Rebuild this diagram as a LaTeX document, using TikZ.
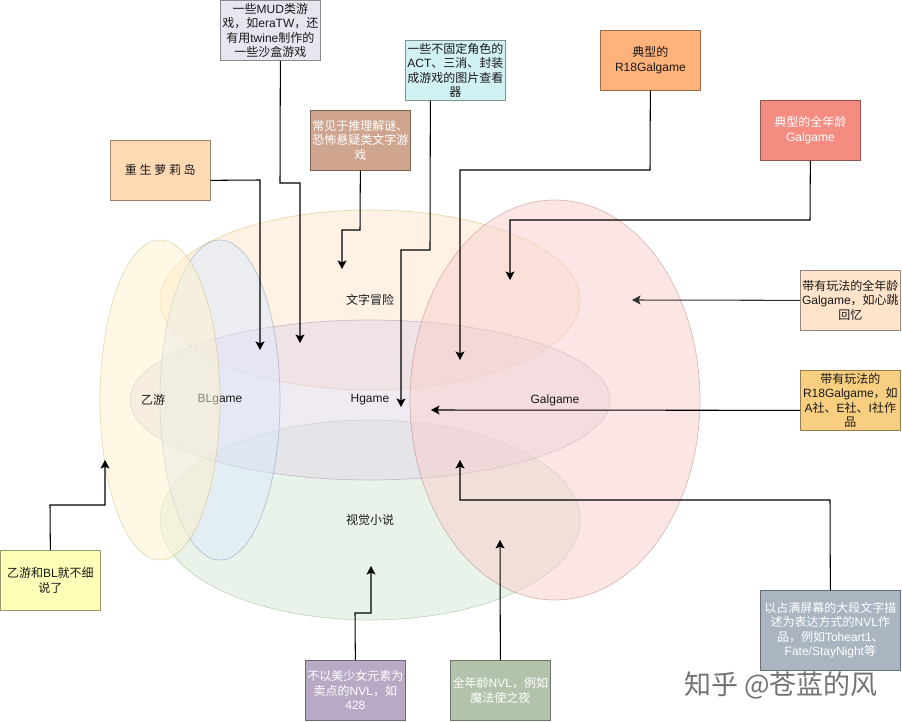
\documentclass[tikz,border=0pt]{standalone}
\usepackage{fontspec}
\setmainfont{Noto Sans CJK SC}
\newfontfamily\latfont{Liberation Sans}
\newcommand{\lat}[1]{{\latfont #1}}
\usetikzlibrary{shapes.geometric,arrows.meta}
\definecolor{cMud}{HTML}{E6E6F0}
\definecolor{cAct}{HTML}{D2F1F3}
\definecolor{cTui}{HTML}{CFA590}
\definecolor{cRe}{HTML}{FFD9B3}
\definecolor{cRe18}{HTML}{FFB27A}
\definecolor{cAll}{HTML}{F48C82}
\definecolor{cPlayA}{HTML}{FFE3CB}
\definecolor{cPlayR}{HTML}{F8CF80}
\definecolor{cNvl}{HTML}{AAB5C1}
\definecolor{cNvlA}{HTML}{B3C3AB}
\definecolor{cNvlB}{HTML}{B8A9C5}
\definecolor{cOto}{HTML}{FFFFB8}
\definecolor{eYel}{HTML}{FFF2CC}
\definecolor{eYelD}{HTML}{BBAA66}
\definecolor{eBlu}{HTML}{DAE8FC}
\definecolor{eBluD}{HTML}{667F9F}
\definecolor{eOra}{HTML}{FFE6CC}
\definecolor{eOraD}{HTML}{C8A040}
\definecolor{ePur}{HTML}{E1D5E7}
\definecolor{ePurD}{HTML}{887799}
\definecolor{eGrn}{HTML}{D5E8D4}
\definecolor{eGrnD}{HTML}{82A070}
\definecolor{eRed}{HTML}{F8CECC}
\definecolor{eRedD}{HTML}{A06660}
\tikzset{
  x=1pt,y=-1pt,
  txt/.style={font=\fontsize{12}{14.5}\selectfont,align=center,inner sep=0pt,text=black!90},
  infobox/.style={txt,draw=#1!60!black,fill=#1,line width=.7pt,anchor=north west,minimum width=100pt,minimum height=60pt},
  lighttext/.style={text=white},
  blob/.style n args={4}{ellipse,draw=#2,fill=#1,fill opacity=.5,draw opacity=.4,line width=.7pt,inner sep=0pt,minimum width=#3,minimum height=#4},
  link/.style={draw=black,line width=1.05pt,-{Stealth[length=8.5pt,width=9pt,inset=1.8pt]}},
}
\begin{document}
\begin{tikzpicture}
\useasboundingbox (0,0) rectangle (902,722);
% overlapping ellipses
\node[blob={eOra}{eOraD}{420pt}{180pt}] (adv) at (370,300) {};
\node[blob={eGrn}{eGrnD}{420pt}{200pt}] (vis) at (370,520) {};
\node[blob={ePur}{ePurD}{480pt}{160pt}] (hg) at (370,400) {};
\node[blob={eBlu}{eBluD}{120pt}{320pt}] (bl) at (220,400) {};
\node[txt] (bltext) at (220,400) {\lat{BLgame}};
\node[blob={eYel}{eYelD}{120pt}{320pt}] (oto) at (160,400) {};
\node[blob={eRed}{eRedD}{290pt}{400pt}] (gal) at (555,400) {};
\node[txt] (advtext) at (370,300) {文字冒险};
\node[txt] (vistext) at (370,520) {视觉小说};
\node[txt] (ototext) at (153,400) {乙游};
\node[txt] (hgtext) at (370,400) {\lat{Hgame}};
\node[txt] (galtext) at (555,400) {\lat{Galgame}};
% boxes
\node[infobox=cMud] (mud) at (220,0) {一些\lat{MUD}类游\\戏，如\lat{eraTW}，还\\有用\lat{twine}制作的\\一些沙盒游戏};
\node[infobox=cAct] (act) at (405,40) {一些不固定角色的\\\lat{ACT}、三消、封装\\成游戏的图片查看\\器};
\node[infobox=cTui,lighttext] (tui) at (310,110) {常见于推理解谜、\\恐怖悬疑类文字游\\戏};
\node[infobox=cRe] (re) at (110,140) {重 生 萝 莉 岛};
\node[infobox=cRe18] (r18) at (600,30) {典型的\\\lat{R18Galgame}};
\node[infobox=cAll,lighttext] (all) at (760,100) {典型的全年龄\\\lat{Galgame}};
\node[infobox=cPlayA] (playa) at (800,270) {带有玩法的全年龄\\\lat{Galgame}，如心跳\\回忆};
\node[infobox=cPlayR] (playr) at (800,370) {带有玩法的\\\lat{R18Galgame}，如\\\lat{A}社、\lat{E}社、\lat{I}社作\\品};
\node[infobox=cNvl,lighttext,minimum width=140pt,minimum height=80pt] (nvl) at (760,590) {以占满屏幕的大段文字描\\述为表达方式的\lat{NVL}作\\品，例如\lat{Toheart1}、\\\lat{Fate/StayNight}等};
\node[infobox=cNvlA,lighttext] (nvla) at (450,660) {全年龄\lat{NVL}，例如\\魔法使之夜};
\node[infobox=cNvlB,lighttext] (nvlb) at (305,660) {不以美少女元素为\\卖点的\lat{NVL}，如\\\lat{428}};
\node[infobox=cOto] (ob) at (0,550) {乙游和\lat{BL}就不细\\说了};
% connector ends
\coordinate (eRe) at (260,350);
\coordinate (eMud) at (300,343);
\coordinate (eTui) at (342,269);
\coordinate (eAct) at (401,407);
\coordinate (eR18) at (460,360);
\coordinate (eAll) at (510,280);
\coordinate (ePlayA) at (632,300);
\coordinate (ePlayR) at (431,410);
\coordinate (eNvl) at (460,460);
\coordinate (eNvlA) at (500,540);
\coordinate (eNvlB) at (371,566);
\coordinate (eOb) at (105,460);
% connectors
\draw[link] ([yshift=-10pt]re.east) -- (260,180) -- (eRe);
\draw[link] ([xshift=10pt]mud.south) -- (280,183) -- (300,183) -- (eMud);
\draw[link] (tui.south) -- (360,230) -- (342,230) -- (eTui);
\draw[link] ([xshift=-25pt]act.south) -- (430,250) -- (401,250) -- (eAct);
\draw[link] (r18.south) -- (650,170) -- (460,170) -- (eR18);
\draw[link] (all.south) -- (810,220) -- (510,220) -- (eAll);
\draw[link,draw=black!80] (playa.west) -- (ePlayA);
\draw[link] ([yshift=-10pt]playr.west) -- (ePlayR);
\draw[link] (nvl.north) -- (830,500) -- (460,500) -- (eNvl);
\draw[link] (nvla.north) -- (eNvlA);
\draw[link] (nvlb.north) -- (355,613) -- (371,613) -- (eNvlB);
\draw[link] (ob.north) -- (50,505) -- (105,505) -- (eOb);
% watermark
\node[inner sep=0pt,anchor=west,text=black!55,font=\fontsize{27}{30}\selectfont] (mark) at (684,685) {知乎 @苍蓝的风};
\end{tikzpicture}
\end{document}
